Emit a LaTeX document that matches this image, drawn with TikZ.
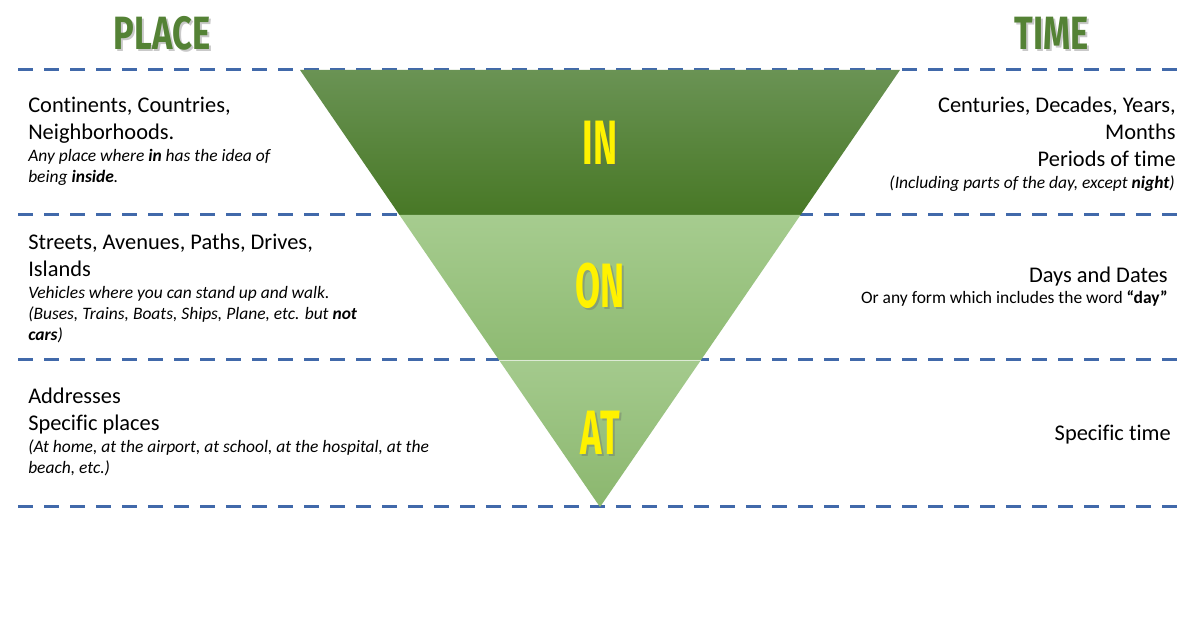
\documentclass[tikz,border=0pt]{standalone}
\usepackage{fontspec}
\setmainfont{Carlito}[Ligatures=NoCommon]
\newfontfamily\bandfont[FakeStretch=0.58]{Fira Sans}
\newfontfamily\headfont[FakeStretch=0.74]{Fira Sans}
\definecolor{guideblue}{RGB}{65,105,170}
\definecolor{headgreen}{RGB}{84,130,53}
\definecolor{intop}{RGB}{106,147,84}
\definecolor{inbot}{RGB}{72,120,38}
\definecolor{ontop}{RGB}{166,204,143}
\definecolor{onbot}{RGB}{142,186,114}
\definecolor{attop}{RGB}{164,202,141}
\definecolor{atbot}{RGB}{139,183,110}
\begin{document}
\begin{tikzpicture}[x=0.75pt,y=-0.75pt,
    guide/.style={draw=guideblue, line width=2.25pt, dash pattern=on 11.25pt off 8.25pt},
    txt/.style={inner sep=0, font=\fontsize{16.8}{20}\selectfont},
    note/.style={inner sep=0, font=\fontsize{13.1}{15}\selectfont\itshape},
    head/.style={inner sep=0, anchor=base, font=\headfont\bfseries\fontsize{35}{40}\selectfont},
    band/.style={inner sep=0, anchor=base, text=yellow, font=\bandfont\bfseries\fontsize{47}{50}\selectfont},
    drop/.style={text=black!60, opacity=0.35}]
    \useasboundingbox[fill=white] (0,0) rectangle (1200,630);
    % dashed guide lines
    \draw[guide] (18,70) -- (1180,70);
    \draw[guide] (18,215) -- (1180,215);
    \draw[guide] (18,360) -- (1180,360);
    \draw[guide] (18,507) -- (1180,507);
    % the funnel
    \shade[top color=intop, bottom color=inbot] (300,70) -- (900,70) -- (800.5,215) -- (399.5,215) -- cycle;
    \shade[top color=ontop, bottom color=onbot] (399.5,215) -- (800.5,215) -- (701,360) -- (499,360) -- cycle;
    \shade[top color=attop, bottom color=atbot] (499,360) -- (701,360) -- (600,507) -- cycle;
    \draw[white!70!onbot, line width=0.6pt] (499,360) -- (701,360);
    % headings
    \node[head, drop] (placeS) at (164,52) {PLACE};
    \node[head, text=headgreen] (place) at (162,50) {PLACE};
    \node[head, drop] (timeS) at (1054,52) {TIME};
    \node[head, text=headgreen] (time) at (1052,50) {TIME};
    \node[band, drop] (inS) at (602,167) {IN};
    \node[band] (in) at (600,165) {IN};
    \node[band, drop] (onS) at (602,310) {ON};
    \node[band] (on) at (600,308) {ON};
    \node[band, drop] (atS) at (602,457) {AT};
    \node[band] (at) at (600,455) {AT};
    % place column
    \node[txt, anchor=base west] (pin1) at (28,113) {Continents, Countries,};
    \node[txt, anchor=base west] (pin2) at (28,140) {Neighborhoods.};
    \node[note, anchor=base west] (pin3) at (28,162) {Any place where \textbf{in} has the idea of};
    \node[note, anchor=base west] (pin4) at (28,183) {being \textbf{inside}.};
    \node[txt, anchor=base west] (pon1) at (28,250) {Streets, Avenues, Paths, Drives,};
    \node[txt, anchor=base west] (pon2) at (28,277) {Islands};
    \node[note, anchor=base west] (pon3) at (28,299) {Vehicles where you can stand up and walk.};
    \node[note, anchor=base west] (pon4) at (28,320) {(Buses, Trains, Boats, Ships, Plane, etc. but \textbf{not}};
    \node[note, anchor=base west] (pon5) at (28,341) {\textbf{cars})};
    \node[txt, anchor=base west] (pat1) at (28,404) {Addresses};
    \node[txt, anchor=base west] (pat2) at (28,431) {Specific places};
    \node[note, anchor=base west] (pat3) at (28,453) {(At home, at the airport, at school, at the hospital, at the};
    \node[note, anchor=base west] (pat4) at (28,474) {beach, etc.)};
    % time column
    \node[txt, anchor=base east] (tin1) at (1176,113) {Centuries, Decades, Years,};
    \node[txt, anchor=base east] (tin2) at (1176,140) {Months};
    \node[txt, anchor=base east] (tin3) at (1176,167) {Periods of time};
    \node[note, anchor=base east] (tin4) at (1175,189) {(Including parts of the day, except \textbf{night})};
    \node[txt, anchor=base east] (ton1) at (1168,283) {Days and Dates};
    \node[note, anchor=base east, font=\fontsize{13.1}{15}\selectfont] (ton2) at (1168,304) {Or any form which includes the word \textbf{“day”}};
    \node[txt, anchor=base east] (tat1) at (1171,441) {Specific time};
\end{tikzpicture}
\end{document}
